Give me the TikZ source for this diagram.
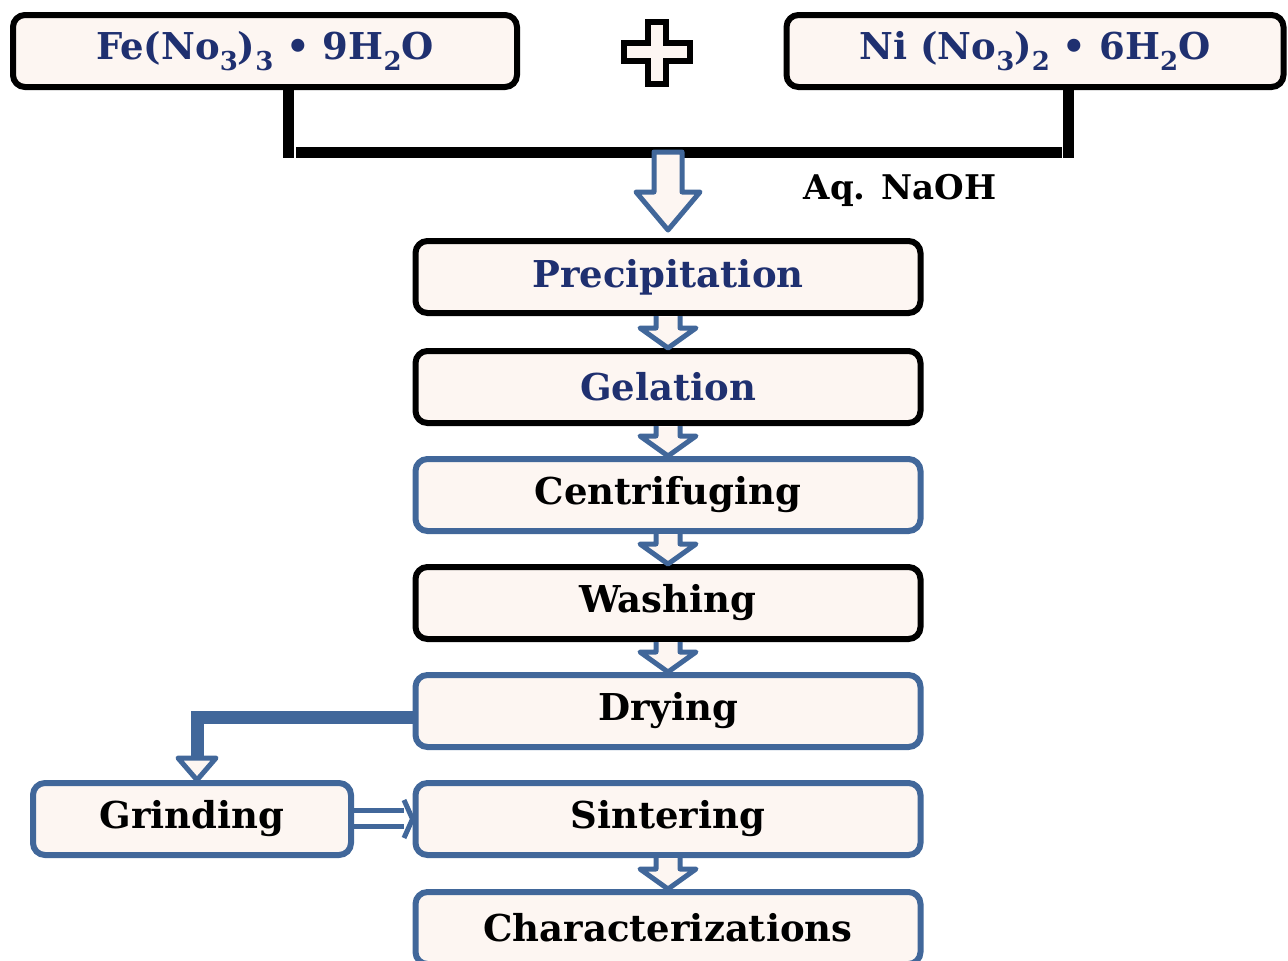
\documentclass[tikz,border=0pt]{standalone}
\usepackage{fontspec}
\setmainfont{DejaVu Serif}
\usetikzlibrary{calc}
\definecolor{bfill}{HTML}{FDF6F2}
\definecolor{bblue}{HTML}{41679A}
\definecolor{navy}{HTML}{1F3070}
\newcommand{\sub}[1]{\raisebox{-0.28em}{\fontsize{26}{26}\selectfont #1}}
\newcommand{\harr}[2]{%
  \path let \p1=(#1.south), \p2=(#2.north) in
    [draw=bblue, line width=5pt, fill=bfill, line join=round]
    (\x1-12,\y1) -- (\x1-12,\y2+20) -- (\x1-28,\y2+20) -- (\x1,\y2) -- (\x1+28,\y2+20) -- (\x1+12,\y2+20) -- (\x1+12,\y1);}
\begin{document}
\begin{tikzpicture}[x=1pt,y=-1pt,
  box/.style={draw=black, line width=6pt, rounded corners=12pt, fill=bfill, minimum height=72pt, inner sep=0pt, font=\fontsize{37}{37}\selectfont\bfseries},
  bbox/.style={box, draw=bblue},
  wide/.style={minimum width=505pt},
]
\useasboundingbox (0,0) rectangle (1288,961);
\node[box, minimum width=504pt, text=navy] (fe) at (265,51) {Fe(No\sub{3})\sub{3} \textbullet{} 9H\sub{2}O};
\node[box, minimum width=497pt, text=navy] (ni) at (1035,51) {Ni (No\sub{3})\sub{2} \textbullet{} 6H\sub{2}O};
\path[draw=black, line width=6pt, fill=bfill, line join=miter]
  (648,22) -- (666,22) -- (666,43) -- (690,43) -- (690,61) -- (666,61) -- (666,84) -- (648,84) -- (648,61) -- (624,61) -- (624,43) -- (648,43) -- cycle;
\coordinate (bl) at (288,158);
\coordinate (br) at (1068,158);
\draw[line width=11pt] (fe.south -| bl) -- (bl);
\draw[line width=11pt] (ni.south -| br) -- (br);
\draw[line width=11pt] (296,152) -- (1062,152);
\node[font=\fontsize{34}{34}\selectfont\bfseries] (aq) at (900,190) {Aq. NaOH};
\node[box, wide, text=navy] (p) at (668,277) {Precipitation};
\node[box, wide, text=navy] (g) at (668,387) {Gelation};
\node[bbox, wide] (c) at (668,495) {Centrifuging};
\node[box, wide] (w) at (668,603) {Washing};
\node[bbox, wide] (d) at (668,711) {Drying};
\node[bbox, wide] (s) at (668,819) {Sintering};
\node[bbox, wide] (ch) at (668,928) {Characterizations};
\node[bbox, minimum width=318pt] (gr) at (192,819) {Grinding};
\path[draw=bblue, line width=5pt, fill=bfill, line join=round]
  (654,152) -- (654,192) -- (636,192) -- (668,230) -- (700,192) -- (682,192) -- (682,152) -- cycle;
\harr{p}{g}
\harr{g}{c}
\harr{c}{w}
\harr{w}{d}
\harr{s}{ch}
\draw[bblue, line width=13pt] (d.west |- 0,717) -- (197,717) -- (197,760);
\path[draw=bblue, line width=5pt, fill=bfill, line join=round] (178,758) -- (216,758) -- (197,780) -- cycle;
\draw[bblue, line width=5pt] (gr.east |- 0,810) -- (404,810);
\draw[bblue, line width=5pt] (gr.east |- 0,826) -- (404,826);
\draw[bblue, line width=5pt, line join=round] (404,800) -- (s.west) -- (404,838);
\end{tikzpicture}
\end{document}
